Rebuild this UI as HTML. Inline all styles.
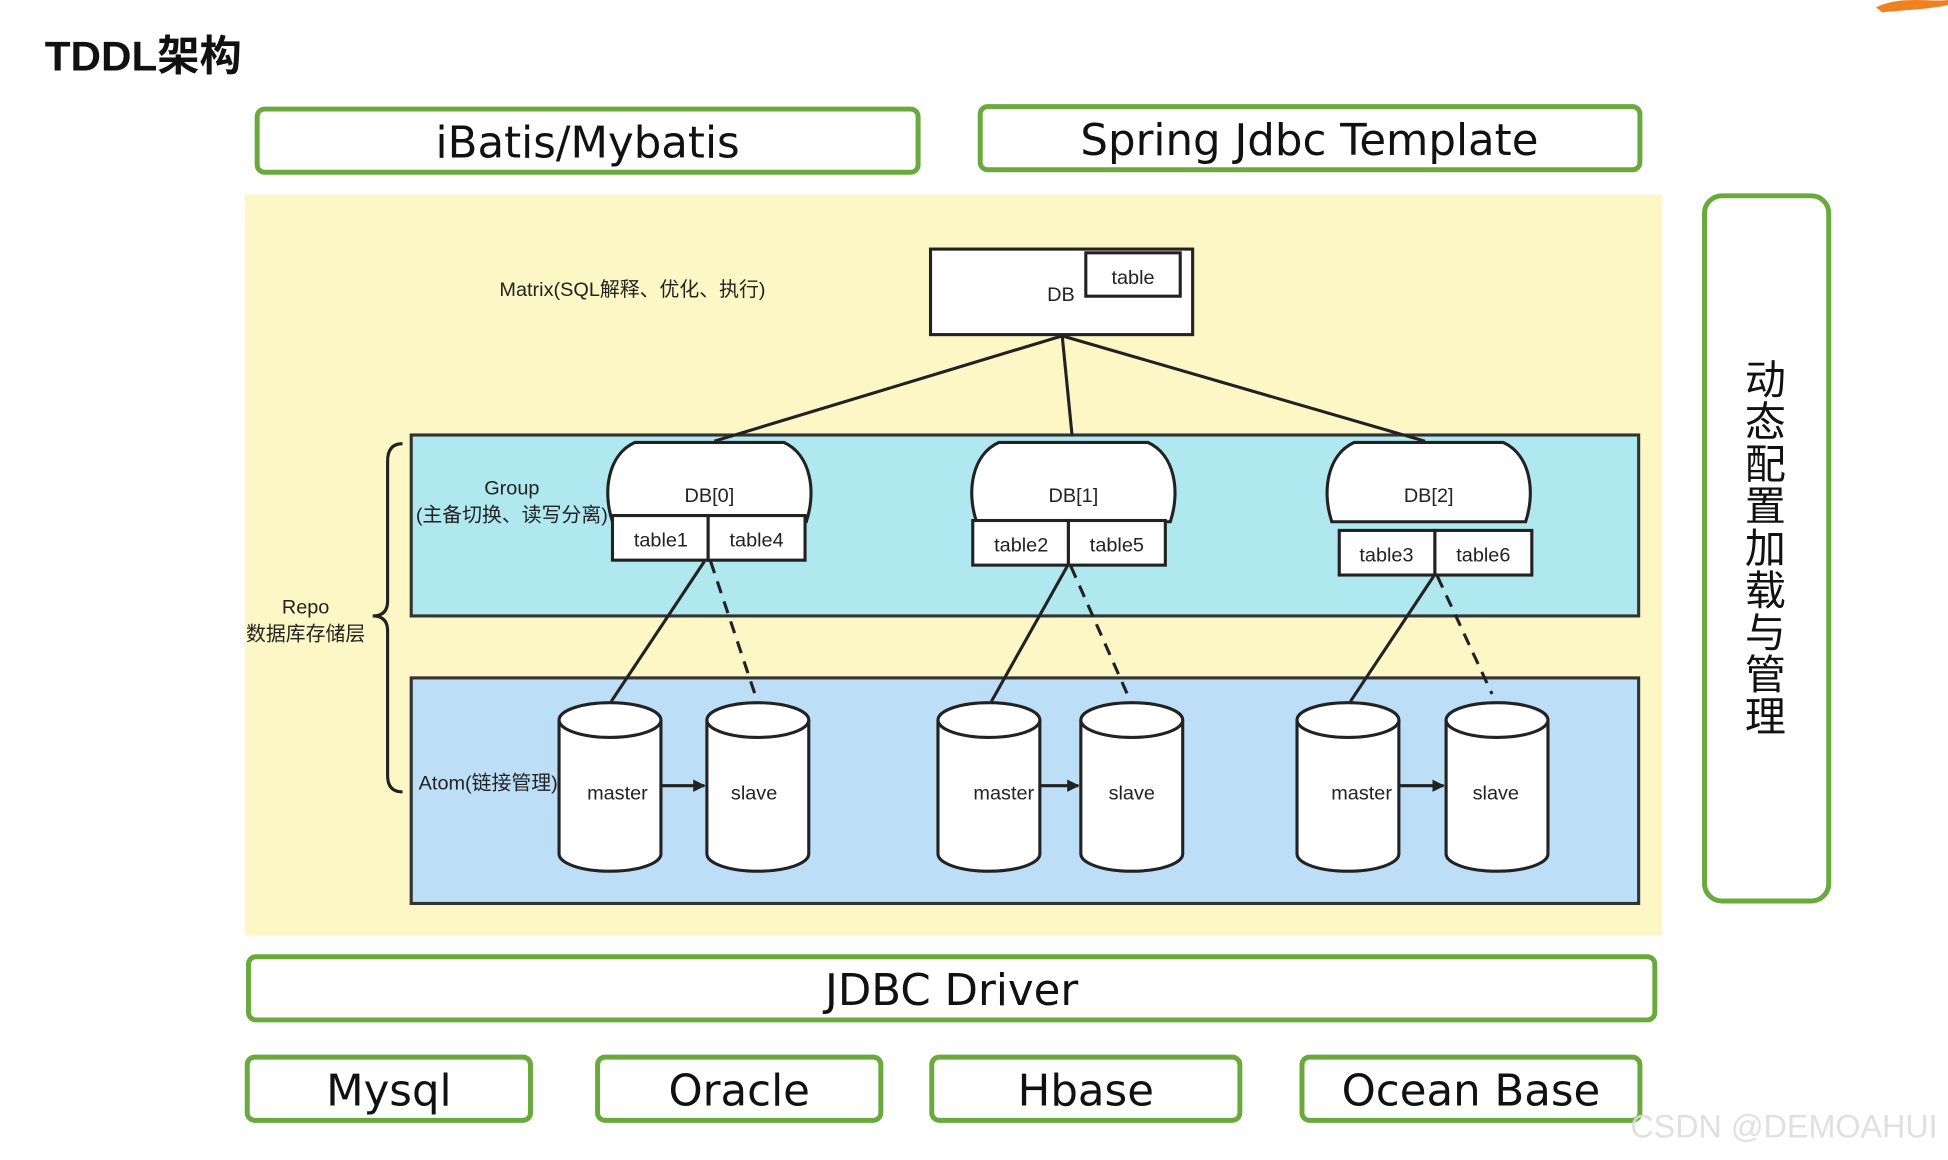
<!DOCTYPE html>
<html><head><meta charset="utf-8"><style>
html,body{margin:0;padding:0;background:#fff;}
svg{display:block;}
text{font-family:"Liberation Sans","Noto Sans CJK SC",sans-serif;}
.big text{font-family:"DejaVu Sans","Noto Sans CJK SC",sans-serif;}
</style></head><body>
<svg width="1948" height="1160" viewBox="0 0 1568 936" preserveAspectRatio="none" xmlns="http://www.w3.org/2000/svg">
<defs>
<marker id="ar" markerWidth="10" markerHeight="10" refX="9" refY="5" orient="auto" markerUnits="userSpaceOnUse"><path d="M0,0 L10,5 L0,10 z" fill="#222"/></marker>
<g id="db"><path d="M4,64 C-4,40 0,10 22,0 L142,0 C164,10 168,40 160,64 Z" fill="#fff" stroke="#222" stroke-width="2.5"/></g>
<g id="cyl"><path d="M0,14 L0,122 A41,14 0 0 0 82,122 L82,14" fill="#fff" stroke="#222" stroke-width="2.5"/><ellipse cx="41" cy="14" rx="41" ry="14" fill="#fff" stroke="#222" stroke-width="2.5"/></g>
</defs>
<path d="M1510,6 C1530,-4 1555,2 1568,0 L1568,4 C1550,8 1530,8 1515,10 Z" fill="#f08020"/>
<text x="36" y="57" font-size="34" font-weight="bold" fill="#111">TDDL架构</text>
<g fill="none" stroke="#6aaa3c" stroke-width="4">
<rect x="207" y="88" width="532" height="51" rx="6"/>
<rect x="789" y="86" width="531" height="51" rx="6"/>
<rect x="1372" y="158" width="100" height="569" rx="14"/>
<rect x="200" y="772" width="1132" height="51" rx="6"/>
<rect x="199" y="853" width="228" height="51" rx="6"/>
<rect x="481" y="853" width="228" height="51" rx="6"/>
<rect x="750" y="853" width="248" height="51" rx="6"/>
<rect x="1048" y="853" width="272" height="51" rx="6"/>
</g>
<g class="big" font-size="35" fill="#111" text-anchor="middle">
<text x="473" y="127">iBatis/Mybatis</text>
<text x="1054" y="125">Spring Jdbc Template</text>
<text x="766" y="811">JDBC Driver</text>
<text x="313" y="892">Mysql</text>
<text x="595" y="892">Oracle</text>
<text x="874" y="892">Hbase</text>
<text x="1184" y="892">Ocean Base</text>
</g>
<g font-size="33" fill="#111" text-anchor="middle">
<text x="1421" y="318">动</text><text x="1421" y="352">态</text><text x="1421" y="386">配</text><text x="1421" y="420">置</text><text x="1421" y="454">加</text><text x="1421" y="488">载</text><text x="1421" y="522">与</text><text x="1421" y="556">管</text><text x="1421" y="590">理</text>
</g>
<rect x="197" y="157" width="1141" height="598" fill="#fcf7c4"/>
<rect x="331" y="351" width="988" height="146" fill="#b0e8f0" stroke="#333" stroke-width="2.5"/>
<rect x="331" y="547" width="988" height="182" fill="#bcdef6" stroke="#333" stroke-width="2.5"/>
<g stroke="#222" stroke-width="2.5" fill="none">
<line x1="855" y1="271" x2="575" y2="356"/>
<line x1="855" y1="271" x2="863" y2="352"/>
<line x1="855" y1="271" x2="1147" y2="356"/>
<path d="M324,358 Q312,358 312,372 L312,485 Q312,497 300,497 Q312,497 312,509 L312,626 Q312,639 324,639"/>
</g>
<rect x="749" y="201" width="211" height="69" fill="#fff" stroke="#222" stroke-width="2.5"/>
<rect x="874" y="204" width="76" height="35" fill="#fff" stroke="#222" stroke-width="2.5"/>
<text x="912" y="229" font-size="16" text-anchor="middle" fill="#222">table</text>
<text x="854" y="243" font-size="16" text-anchor="middle" fill="#222">DB</text>
<text x="402" y="239" font-size="16" fill="#222">Matrix(SQL解释、优化、执行)</text>
<text x="412" y="399" font-size="16" text-anchor="middle" fill="#222">Group</text>
<text x="412" y="421" font-size="16" text-anchor="middle" fill="#222">(主备切换、读写分离)</text>
<text x="246" y="495" font-size="16" text-anchor="middle" fill="#222">Repo</text>
<text x="246" y="517" font-size="16" text-anchor="middle" fill="#222">数据库存储层</text>
<text x="337" y="637" font-size="16" fill="#222">Atom(链接管理)</text>
<g transform="translate(489,357)"><use href="#db"/></g>
<g transform="translate(782,357)"><use href="#db"/></g>
<g transform="translate(1068,357)"><use href="#db"/></g>
<g font-size="16" fill="#222" text-anchor="middle">
<text x="571" y="405">DB[0]</text><text x="864" y="405">DB[1]</text><text x="1150" y="405">DB[2]</text>
</g>
<g fill="#fff" stroke="#222" stroke-width="2.5">
<rect x="493" y="416" width="77" height="36"/><rect x="570" y="416" width="78" height="36"/>
<rect x="783" y="420" width="77" height="36"/><rect x="860" y="420" width="78" height="36"/>
<rect x="1078" y="428" width="77" height="36"/><rect x="1155" y="428" width="78" height="36"/>
</g>
<g font-size="16" fill="#222" text-anchor="middle">
<text x="532" y="441">table1</text><text x="609" y="441">table4</text>
<text x="822" y="445">table2</text><text x="899" y="445">table5</text>
<text x="1116" y="453">table3</text><text x="1194" y="453">table6</text>
</g>
<g stroke="#222" stroke-width="2.5" fill="none">
<line x1="567" y1="453" x2="492" y2="566"/>
<line x1="572" y1="453" x2="609" y2="564" stroke-dasharray="10,7"/>
<line x1="859" y1="457" x2="798" y2="566"/>
<line x1="862" y1="457" x2="910" y2="566" stroke-dasharray="10,7"/>
<line x1="1154" y1="465" x2="1087" y2="566"/>
<line x1="1157" y1="465" x2="1201" y2="560" stroke-dasharray="10,7"/>
</g>
<g transform="translate(450,567)"><use href="#cyl"/></g>
<g transform="translate(569,567)"><use href="#cyl"/></g>
<g transform="translate(755,567)"><use href="#cyl"/></g>
<g transform="translate(870,567)"><use href="#cyl"/></g>
<g transform="translate(1044,567)"><use href="#cyl"/></g>
<g transform="translate(1164,567)"><use href="#cyl"/></g>
<g stroke="#222" stroke-width="2.5" marker-end="url(#ar)">
<line x1="533" y1="634" x2="567" y2="634"/>
<line x1="838" y1="634" x2="868" y2="634"/>
<line x1="1127" y1="634" x2="1162" y2="634"/>
</g>
<g font-size="16" fill="#222" text-anchor="middle">
<text x="497" y="645">master</text><text x="607" y="645">slave</text>
<text x="808" y="645">master</text><text x="911" y="645">slave</text>
<text x="1096" y="645">master</text><text x="1204" y="645">slave</text>
</g>
<text x="1436" y="918" font-size="26" text-anchor="middle" fill="#ddd" fill-opacity="0.9">CSDN @DEMOAHUI</text>
</svg>
</body></html>
